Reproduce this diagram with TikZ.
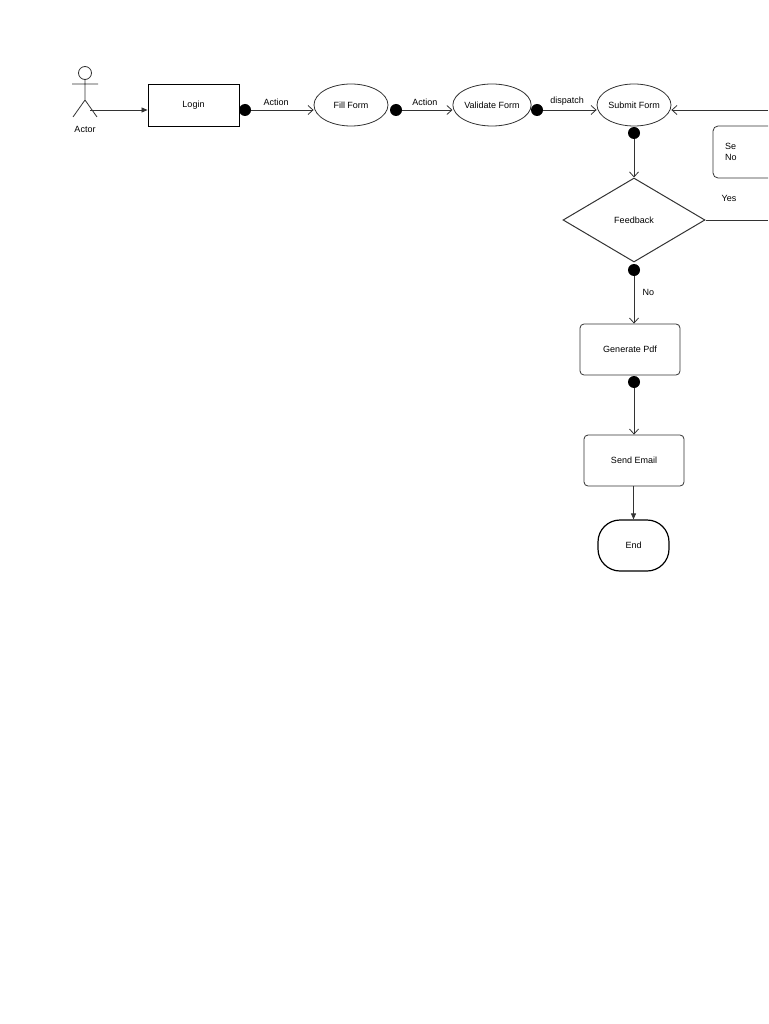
\documentclass[tikz,border=0pt]{standalone}
\usepackage{fontspec}
\setmainfont{Liberation Sans}
\usetikzlibrary{shapes.geometric,arrows.meta}
\begin{document}
\begin{tikzpicture}[x=1pt,y=-1pt,font=\fontsize{9}{11}\selectfont,
  ln/.style={draw=black!80,line width=0.8pt},
  dotc/.style={circle,fill=black,inner sep=0pt,minimum size=12pt},
  arr/.style={ln,-{Straight Barb[length=5pt,width=9pt]}},
  ell/.style={ln,ellipse,minimum width=74pt,minimum height=42pt,inner sep=0pt},
  rbox/.style={ln,rounded corners=4pt,minimum width=100pt,minimum height=51pt,inner sep=0pt}]
\useasboundingbox (0,0) rectangle (768,1024);
% actor
\draw[ln] (85,73) circle (6.5);
\draw[ln] (85,80) -- (85,100) (72,84) -- (98,84) (73,117) -- (85,100) -- (97,117);
\node (actorlbl) at (85,129) {Actor};
\coordinate (actor) at (90,110);
\node[draw,line width=0.9pt,minimum width=91pt,minimum height=42pt,inner sep=0pt] (login) at (193.5,105) {Login};
\draw[ln,-{Triangle[length=6pt,width=5pt]}] (actor) -- (login.west |- actor);
\node[ell] (fill) at (351,105) {Fill Form};
\node[ell] (valid) at (492,105) {Validate Form};
\node[ell] (submit) at (634,105) {Submit Form};
\node[dotc] (d1) at (245,110) {};
\node[dotc] (d2) at (396,110) {};
\node[dotc] (d3) at (537,110) {};
\draw[arr] (d1) -- (fill.west |- d1) node[pos=0.4,above=1pt] {Action};
\draw[arr] (d2) -- (valid.west |- d2) node[pos=0.45,above=1pt] {Action};
\draw[arr] (d3) -- (submit.west |- d3) node[pos=0.45,above=1pt] {dispatch};
\coordinate (rin) at (768,110);
\draw[arr] (rin) -- (submit.east |- rin);
% partial box
\begin{scope}
\clip (700,120) rectangle (768,185);
\draw[ln,rounded corners=5pt] (790,126) -- (713,126) -- (713,178) -- (790,178);
\end{scope}
\node[anchor=west,align=left,inner sep=0pt] (part) at (725,152) {Se\\No};
\node[dotc] (d4) at (634,133) {};
\node[ln,diamond,line width=1pt,minimum width=142pt,minimum height=84pt,inner sep=0pt,aspect=1.69] (fb) at (634,220) {Feedback};
\draw[arr] (d4) -- (fb.north);
\coordinate (rout) at (768,220);
\draw[ln] (fb.east) -- (rout);
\node (yes) at (729,198) {Yes};
\node[dotc] (d5) at (634,270) {};
\node[rbox] (gen) at (630,349.5) {Generate Pdf};
\draw[arr] (d5) -- (gen.north -| d5) node[pos=0.35,right=5pt] {No};
\node[dotc] (d6) at (634,382) {};
\node[rbox] (email) at (634,460.5) {Send Email};
\draw[arr] (d6) -- (email.north);
\node[draw,line width=1.2pt,rounded corners=22pt,minimum width=71pt,minimum height=51pt,inner sep=0pt] (end) at (633.5,545.5) {End};
\draw[ln,-{Triangle[length=6pt,width=5pt]}] (email.south -| end) -- (end.north);
\end{tikzpicture}
\end{document}
